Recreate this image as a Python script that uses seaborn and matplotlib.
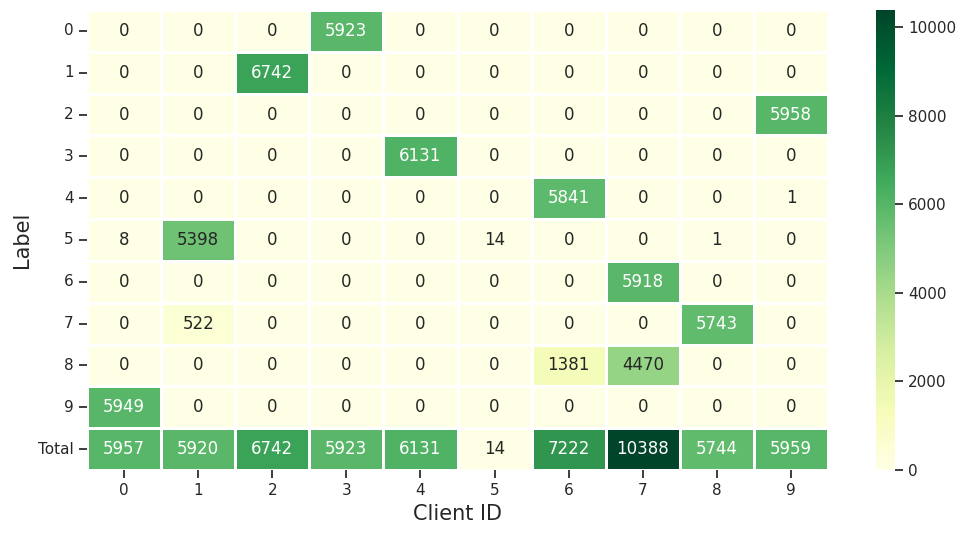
import numpy as np
import pandas as pd
import seaborn as sns
import matplotlib.pyplot as plt

clients = [str(i) for i in range(10)]
labels = [str(i) for i in range(10)]

# rows = label, columns = client id
counts = [
    [0, 0, 0, 5923, 0, 0, 0, 0, 0, 0],
    [0, 0, 6742, 0, 0, 0, 0, 0, 0, 0],
    [0, 0, 0, 0, 0, 0, 0, 0, 0, 5958],
    [0, 0, 0, 0, 6131, 0, 0, 0, 0, 0],
    [0, 0, 0, 0, 0, 0, 5841, 0, 0, 1],
    [8, 5398, 0, 0, 0, 14, 0, 0, 1, 0],
    [0, 0, 0, 0, 0, 0, 0, 5918, 0, 0],
    [0, 522, 0, 0, 0, 0, 0, 0, 5743, 0],
    [0, 0, 0, 0, 0, 0, 1381, 4470, 0, 0],
    [5949, 0, 0, 0, 0, 0, 0, 0, 0, 0],
]

data = pd.DataFrame(counts, index=labels, columns=clients)
data.loc['Total'] = data.sum(axis=0)

sns.set_theme()
sns.set_style('ticks')

fig = plt.figure(figsize=(9.69, 5.35), dpi=100)
ax = fig.add_axes([87 / 969, 65 / 535, 741 / 969, 460 / 535])
cax = fig.add_axes([876 / 969, 65 / 535, 19 / 969, 460 / 535])
sns.heatmap(data, annot=True, fmt='d', cmap='YlGn', linewidths=2, linecolor='white',
            annot_kws={'size': 12}, ax=ax, cbar_ax=cax)
ax.set_xlabel('Client ID', fontsize=15)
ax.set_ylabel('Label', fontsize=15)
ax.tick_params(axis='y', rotation=0)
plt.savefig('out.png')
